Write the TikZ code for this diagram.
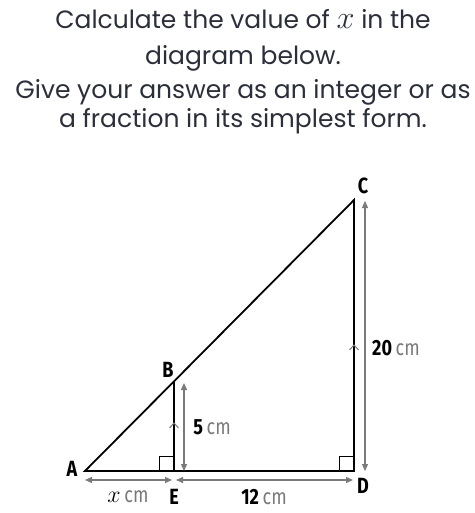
\documentclass[tikz,border=0pt]{standalone}
\usepackage{fontspec}
\setmainfont{Poppins}
\newfontfamily\lab[FakeStretch=0.82]{Fira Sans}
\usetikzlibrary{arrows.meta}
\definecolor{txt}{HTML}{2B2F3A}
\definecolor{dimc}{HTML}{7A7A7A}
\begin{document}
\begin{tikzpicture}[x=1pt,y=-1pt,
  title/.style={font=\fontsize{25}{25}\selectfont, text=txt, anchor=base, inner sep=0},
  edge/.style={line width=1.8pt, black, line join=miter},
  sq/.style={line width=0.9pt, black},
  dimarrow/.style={draw=dimc, line width=1.3pt, {Triangle[length=7pt,width=6pt]}-{Triangle[length=7pt,width=6pt]}},
  tick/.style={draw=dimc, line width=1pt},
  lbl/.style={font=\lab\bfseries\fontsize{22}{22}\selectfont, inner sep=0, text=black},
  unit/.style={text=dimc, font=\lab\fontsize{22}{22}\selectfont}
]
\useasboundingbox (0,0) rectangle (474,513);
\node[title] (t1) at (243,29) {Calculate the value of \scalebox{1.3}{$x$} in the};
\node[title] (t2) at (243,65) {diagram below.};
\node[title] (t3) at (243,99) {Give your answer as an integer or as};
\node[title] (t4) at (243,128) {a fraction in its simplest form.};

\coordinate (A) at (85,471);
\coordinate (E) at (174,471);
\coordinate (D) at (354,471);
\coordinate (B) at (174,382);
\coordinate (C) at (354,200);

\draw[edge] (A) -- (C) -- (D) -- cycle;
\draw[edge] (B) -- (E);

\draw[sq] (159,471) -- (159,456) -- (174,456);
\draw[sq] (339,471) -- (339,456) -- (354,456);

% dimension arrows
\coordinate (b1) at (184,383);
\coordinate (e1) at (184,471);
\draw[dimarrow] (b1) -- (e1);
\coordinate (c1) at (365,201);
\coordinate (d1) at (365,471);
\draw[dimarrow] (c1) -- (d1);
\coordinate (a2) at (85,480);
\coordinate (e2) at (172,480);
\coordinate (e3) at (176,480);
\coordinate (d2) at (353,480);
\draw[dimarrow] (a2) -- (e2);
\draw[dimarrow] (e3) -- (d2);

% parallel ticks
\draw[tick] (169.5,428) -- (174,423) -- (178.5,428);
\draw[tick] (349.5,350) -- (354,345) -- (358.5,350);

% labels
\node[lbl] (lA) at (72,469) {A};
\node[lbl] (lB) at (168,370) {B};
\node[lbl] (lC) at (363,186) {C};
\node[lbl] (lD) at (363,486) {D};
\node[lbl] (lE) at (174,497) {E};
\node[lbl] (lx) at (128,497) {\scalebox{1.15}{$x$}\,{\lab\mdseries\color{dimc}cm}};
\node[lbl] (l12) at (264,497) {12\,{\lab\mdseries\color{dimc}cm}};
\node[lbl] (l5) at (212,427) {5\,{\lab\mdseries\color{dimc}cm}};
\node[lbl] (l20) at (396,348) {20\,{\lab\mdseries\color{dimc}cm}};
\end{tikzpicture}
\end{document}
